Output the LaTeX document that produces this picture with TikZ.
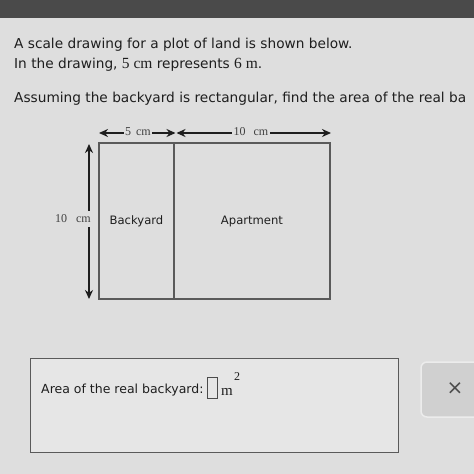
\documentclass[tikz,border=0pt]{standalone}
\usepackage{fontspec}
\setmainfont{DejaVu Sans}
\newfontfamily\serifnum{Liberation Serif}
\usetikzlibrary{arrows.meta}
\definecolor{bg}{HTML}{DEDEDE}
\definecolor{bar}{HTML}{4A4A4A}
\definecolor{ink}{HTML}{1E1E1E}
\definecolor{plan}{HTML}{5A5A5A}
\definecolor{btnfill}{HTML}{D0D0D0}
\definecolor{btnedge}{HTML}{ECECEC}
\tikzset{
  prose/.style={anchor=base west, inner sep=0pt, text=ink, font=\fontsize{13.7}{15}\selectfont},
  room/.style={draw=plan, line width=1.4pt, inner sep=0pt, text=ink, font=\fontsize{11.6}{13}\selectfont},
  dimline/.style={draw=ink, line width=1.7pt, {Stealth[length=9pt,width=8pt]}-{Stealth[length=9pt,width=8pt]}},
  dimlabel/.style={fill=bg, inner sep=1.5pt, text=ink!85, font=\serifnum\fontsize{12}{13}\selectfont},
}
\begin{document}
\begin{tikzpicture}[x=1pt,y=-1pt]
\useasboundingbox (0,0) rectangle (474,474);
\fill[bg] (0,0) rectangle (474,474);
\fill[bar] (0,0) rectangle (474,18);

% prose
\node[prose] (l1) at (14,48) {A scale drawing for a plot of land is shown below.};
\node[prose] (l2) at (14,68) {In the drawing, {\serifnum\fontsize{15.5}{16}\selectfont 5 cm} represents {\serifnum\fontsize{15.5}{16}\selectfont 6 m}.};
\node[prose] (l3) at (14,102) {Assuming the backyard is rectangular, find the area of the real ba};

% plan
\node[room, minimum width=75pt, minimum height=156pt] (by) at (136.5,221) {Backyard};
\node[room, minimum width=156pt, minimum height=156pt] (ap) at (252,221) {Apartment};

% dimension lines
\coordinate (t1) at (99,133);
\coordinate (t2) at (175.5,133);
\coordinate (t3) at (176.5,133);
\coordinate (t4) at (331,133);
\coordinate (v1) at (89,144);
\coordinate (v2) at (89,299);
\draw[dimline] (t1) -- (t2);
\draw[dimline] (t3) -- (t4);
\draw[dimline] (v1) -- (v2);
\node[dimlabel] (d1) at (138,132) {5\hspace{5pt}cm};
\node[dimlabel] (d2) at (251,132) {10\hspace{8pt}cm};
\node[dimlabel, anchor=east, inner sep=1pt, minimum height=16pt] (d3) at (92,219) {10\hspace{9pt}cm};

% answer box
\node[draw=plan, line width=1pt, fill=bg!75!white, minimum width=368pt, minimum height=94pt, inner sep=0pt] (ans) at (214,405) {};
\node[anchor=base west, inner sep=0pt, text=ink, font=\fontsize{12.5}{14}\selectfont] (q) at (41,393) {Area of the real backyard:};
\node[draw=ink!80, line width=0.8pt, minimum width=10pt, minimum height=21pt, inner sep=0pt] (slot) at (212.5,388) {};
\node[anchor=base west, inner sep=0pt, text=ink, font=\serifnum\fontsize{15}{16}\selectfont] (unit) at (221,395) {m};
\node[inner sep=0pt, text=ink, font=\serifnum\fontsize{12}{13}\selectfont] (sq) at (237,377) {2};

% close button
\draw[btnedge, line width=1.5pt, fill=btnfill, rounded corners=6pt] (421,362) rectangle (490,417);
\node[inner sep=0pt, text=ink!80, font=\fontsize{20}{20}\selectfont] (x) at (455,389) {×};
\end{tikzpicture}
\end{document}
